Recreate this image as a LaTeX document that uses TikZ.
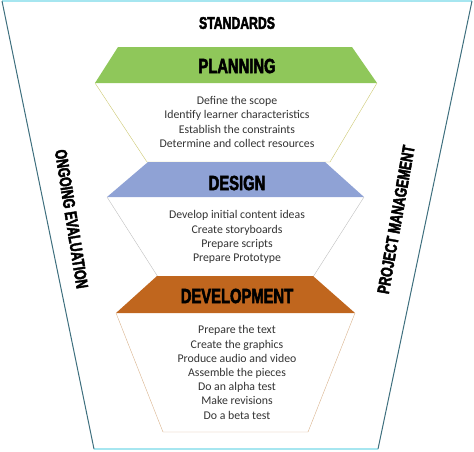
\documentclass[tikz,border=0pt]{standalone}
\usepackage{fontspec}
\setmainfont{Carlito}
\newfontfamily\hdfont[FakeStretch=0.72,FakeBold=2.5]{Liberation Sans Bold}
\usepackage{xcolor}
\usepackage{tikz}
\definecolor{plangreen}{HTML}{8FC75A}
\definecolor{desblue}{HTML}{8FA2D5}
\definecolor{devorange}{HTML}{C0661E}
\definecolor{rimdark}{HTML}{3E6F7E}
\definecolor{rimcyan}{HTML}{A6E6F0}
\definecolor{bodytext}{HTML}{333333}

\begin{document}
\begin{tikzpicture}[x=1pt,y=-1pt,
 head/.style={font=\hdfont\fontsize{20.5}{22}\selectfont,text=black,inner sep=0pt},
 side/.style={font=\hdfont\fontsize{17}{19}\selectfont,text=black,inner sep=0pt},
 tasks/.style={font=\fontsize{11.8}{14.2}\selectfont,text=bodytext,align=center,inner sep=0pt}]
 \useasboundingbox (0,0) rectangle (474,451);

 % outer frame
 \draw[rimcyan,line width=2pt] (2,1) -- (472,1);
 \draw[rimcyan,line width=2pt] (94,449) -- (378,449);
 \draw[rimdark,line width=1pt] (2,1) -- (94,449);
 \draw[rimdark,line width=1pt] (472,1) -- (378,449);

 % planning
 \fill[plangreen] (118,47) -- (352,47) -- (377,83) -- (95,83) -- cycle;
 \draw[draw=olive!45] (95,83) -- (147,162) -- (330,162) -- (377,83);
 % design
 \fill[desblue] (148,162) -- (325,162) -- (364,197) -- (107,197) -- cycle;
 \draw[draw=gray!50] (107,197) -- (158,277) -- (313,277) -- (364,197);
 % development
 \fill[devorange] (157,276) -- (313,276) -- (355,313) -- (116,313) -- cycle;
 \draw[draw=brown!60] (116,313) -- (163,432) -- (308,432) -- (355,313);

 \node[side] (std) at (237,23) {STANDARDS};
 \node[head] (plan) at (237,66) {PLANNING};
 \node[head] (des) at (237,183) {DESIGN};
 \node[head] (dev) at (237,296) {DEVELOPMENT};

 \node[tasks] (plantasks) at (237,122) {Define the scope\\Identify learner characteristics\\Establish the constraints\\Determine and collect resources};
 \node[tasks] (destasks) at (237,237) {Develop initial content ideas\\Create storyboards\\Prepare scripts\\Prepare Prototype};
 \node[tasks] (devtasks) at (237,372.5) {Prepare the text\\Create the graphics\\Produce audio and video\\Assemble the pieces\\Do an alpha test\\Make revisions\\Do a beta test};

 \node[side,rotate=-81] (eval) at (71.5,219) {ONGOING EVALUATION};
 \node[side,rotate=80] (pm) at (396,219.5) {PROJECT MANAGEMENT};
\end{tikzpicture}
\end{document}
